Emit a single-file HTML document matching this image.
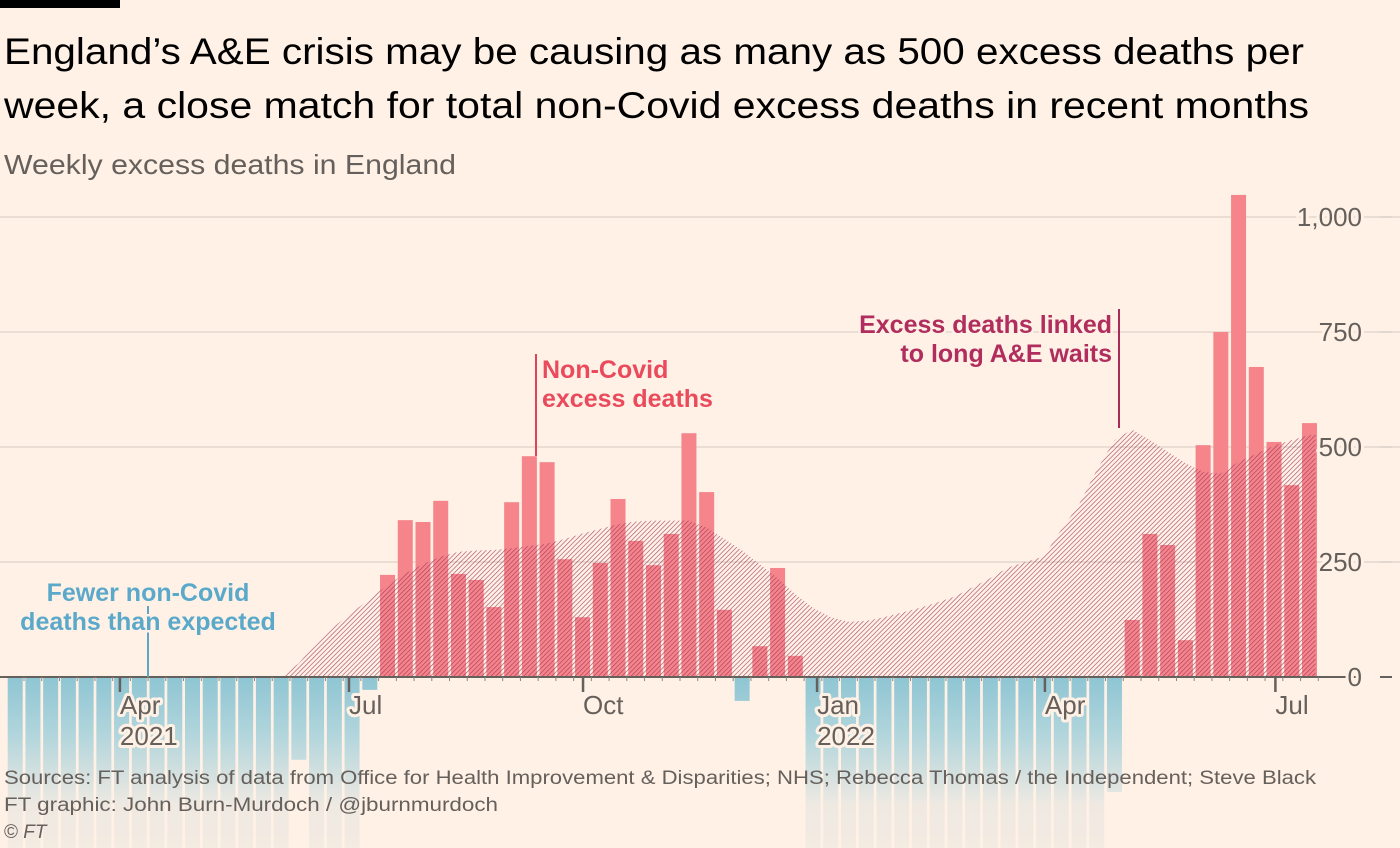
<!DOCTYPE html>
<html><head><meta charset="utf-8"><style>
html,body{margin:0;padding:0;background:#fff1e5;}
svg{display:block;font-family:"Liberation Sans",sans-serif;}
</style></head><body>
<svg id="c" width="1400" height="848" viewBox="0 0 1400 848">
<defs>
<pattern id="hatch" patternUnits="userSpaceOnUse" width="3.3" height="3.3" patternTransform="rotate(45)">
<line x1="0" y1="0" x2="0" y2="3.3" stroke="#9c2f55" stroke-width="1.25" stroke-opacity="0.88"/>
</pattern>
<linearGradient id="blue" gradientUnits="userSpaceOnUse" x1="0" y1="677" x2="0" y2="848">
<stop offset="0" stop-color="#8ec5d3"/>
<stop offset="0.35" stop-color="#b3d6dc"/>
<stop offset="0.75" stop-color="#efe9e2"/>
<stop offset="1" stop-color="#f4ebe2"/>
</linearGradient>
</defs>
<rect x="0" y="0" width="120" height="8" fill="#000"/>
<text x="4" y="64" font-size="37" fill="#000" textLength="1300" lengthAdjust="spacingAndGlyphs">England’s A&amp;E crisis may be causing as many as 500 excess deaths per</text>
<text x="4" y="118" font-size="37" fill="#000" textLength="1305" lengthAdjust="spacingAndGlyphs">week, a close match for total non-Covid excess deaths in recent months</text>
<text x="4" y="174" font-size="28" fill="#66605c" textLength="452" lengthAdjust="spacingAndGlyphs">Weekly excess deaths in England</text>
<g id="grid"></g>
<g id="bars"></g>
<g id="area"></g>
<g id="axis"></g>
<g id="ann"></g>
<text x="4" y="784" font-size="19" fill="#66605c" textLength="1312" lengthAdjust="spacingAndGlyphs">Sources: FT analysis of data from Office for Health Improvement &amp; Disparities; NHS; Rebecca Thomas / the Independent; Steve Black</text>
<text x="4" y="811" font-size="19" fill="#66605c" textLength="494" lengthAdjust="spacingAndGlyphs">FT graphic: John Burn-Murdoch / @jburnmurdoch</text>
<text x="4" y="838" font-size="19" fill="#66605c">© <tspan font-style="italic">FT</tspan></text>
</svg>
<script>
// weekly non-Covid excess deaths (74 weeks, from early Jan 2021)
const excess = [-400,-400,-400,-400,-400,-400,-400,-400,-400,-400,-400,-400,-400,-400,-400,-400,-180,-400,-400,-400,-28,
 222,341,337,383,224,211,152,380,480,467,256,130,248,387,296,243,311,530,402,146,-52,67,237,46,
 -400,-400,-400,-400,-400,-400,-400,-400,-400,-400,-400,-400,-400,-400,-400,-400,-400,-250,
 124,311,287,80,504,750,1048,674,511,417,552];
// excess deaths linked to A&E waits (starting at week 15)
const aeStart = 15;
const aeDeaths = [0,30,75,110,140,170,200,225,245,262,272,275,276,280,285,290,300,312,322,332,338,340,340,340,325,300,275,245,215,180,150,130,120,122,130,140,150,162,175,195,215,238,250,262,320,375,450,515,538,515,490,465,446,442,468,485,503,515,526];
const yTicks = [0,250,500,750,1000];
const yTickLabels = ["0","250","500","750","1,000"];
const monthWeeks = [6.33,19.25,32.45,45.65,58.5,71.5];
const monthLabels = [["Apr","2021"],["Jul",""],["Oct",""],["Jan","2022"],["Apr",""],["Jul",""]];

const NS="http://www.w3.org/2000/svg";
const x0=7.7, pitch=17.73, bw=15;
const X = i => x0 + i*pitch;
const Y = v => 677 - v*0.46;
function mk(tag, attrs, parent){const e=document.createElementNS(NS,tag);for(const k in attrs)e.setAttribute(k,attrs[k]);parent.appendChild(e);return e;}
const g=id=>document.getElementById(id);

yTicks.forEach((t,k)=>{
  if(t!==0){
    const l=mk('line',{x1:0,x2:1400,y1:Y(t),y2:Y(t),stroke:'#e3d8cf','stroke-width':1.5},g('grid'));
    
    
  }
});

excess.forEach((v,i)=>{
  const neg=v<0;
  const r=mk('rect',{x:X(i),width:bw,y:neg?677:Y(v),height:Math.abs(v)*0.46,fill:neg?'url(#blue)':'#f5858b'},g('bars'));
  
  
});

// area
let d='M'+(X(aeStart)+bw/2-8)+','+Y(0);
aeDeaths.forEach((v,k)=>{ d+=' L'+(X(aeStart+k)+bw/2)+','+Y(v); });
const lastX=X(aeStart+aeDeaths.length-1)+bw/2+6;
d+=' L'+lastX+','+Y(aeDeaths[aeDeaths.length-1])+' L'+lastX+','+Y(0)+' Z';
const ar=mk('path',{d:d,fill:'url(#hatch)'},g('area'));



// axis
const ax=mk('line',{x1:0,x2:1360,y1:677,y2:677,stroke:'#66605c','stroke-width':2},g('axis'));


for(let i=0;i<excess.length;i++){
  const t=mk('line',{x1:X(i)+bw+1.3,x2:X(i)+bw+1.3,y1:677,y2:681,stroke:'#8a837e','stroke-width':1},g('axis'));
  
  
}
yTicks.forEach((t,k)=>{
  const tx=mk('text',{x:1362,y:Y(t)+9,'font-size':26,fill:'#66605c','text-anchor':'end',stroke:'#fff1e5','stroke-width':6,'paint-order':'stroke'},g('axis'));
  tx.textContent=yTickLabels[k];
  
  
  const tk=mk('line',{x1:1380,x2:1392,y1:Y(t),y2:Y(t),stroke:t===0?'#66605c':'#e3d8cf','stroke-width':2},g('axis'));
  
  
});
monthWeeks.forEach((w,k)=>{
  const x=X(w);
  const t=mk('line',{x1:x,x2:x,y1:677,y2:692,stroke:'#66605c','stroke-width':2.5},g('axis'));
  
  
  const tx=mk('text',{x:x,y:714,'font-size':26,fill:'#66605c',stroke:'#fff1e5','stroke-width':6,'paint-order':'stroke','stroke-linejoin':'round'},g('axis'));
  tx.textContent=monthLabels[k][0];
  
  
  if(monthLabels[k][1]){
    const ty=mk('text',{x:x,y:745,'font-size':26,fill:'#66605c',stroke:'#fff1e5','stroke-width':6,'paint-order':'stroke','stroke-linejoin':'round'},g('axis'));
    ty.textContent=monthLabels[k][1];
    
    
  }
});

// annotations
function ann(lines,x,y,anchor,color,name){
  lines.forEach((s,k)=>{
    const t=mk('text',{x:x,y:y+k*29,'font-size':25,'font-weight':'bold',fill:color,'text-anchor':anchor,stroke:'#fff1e5','stroke-width':5,'paint-order':'stroke'},g('ann'));
    t.textContent=s;
    
    
  });
}
function aline(x,y1,y2,color,name){
  const l=mk('line',{x1:x,x2:x,y1:y1,y2:y2,stroke:color,'stroke-width':2},g('ann'));
  
  
}
aline(536,354,456,'#e0425a','non-covid-pointer');
ann(['Non-Covid','excess deaths'],542,378,'start','#ea4a5c','non-covid-label');
aline(1119,309,428,'#a92b58','ae-pointer');
ann(['Excess deaths linked','to long A&E waits'],1112,333,'end','#b02d5d','ae-label');
aline(148,606,677,'#5aa7c7','fewer-pointer');
ann(['Fewer non-Covid','deaths than expected'],148,601,'middle','#5aa9cb','fewer-label');
</script>
</body></html>
